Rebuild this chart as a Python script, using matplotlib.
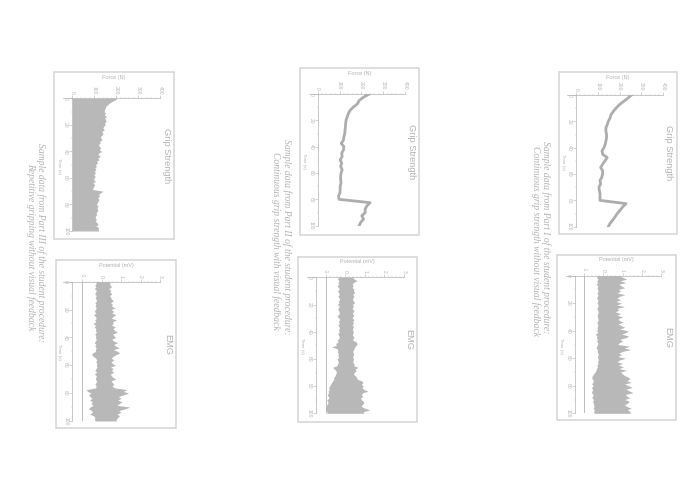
import numpy as np
import matplotlib
matplotlib.use('Agg')
import matplotlib.pyplot as plt
from matplotlib.patches import Rectangle
from matplotlib.ticker import MultipleLocator

# Time samples for the slow force traces (s)
time_s = np.arange(0, 100.1, 2.5)
# Finer time samples for the noisy traces (s)
time_fine = np.arange(0, 100.1, 1.25)

# Grip force (N)
force_rep = [205, 195, 180, 168, 160, 152, 150, 146, 145, 152,
             146, 155, 148, 152, 153, 147, 150, 142, 140, 146,
             134, 140, 138, 128, 130, 136, 124, 128, 118, 124,
             130, 122, 134, 120, 118, 128, 116, 122, 110, 116,
             105, 110, 103, 108, 100, 106, 98, 104, 100, 96,
             106, 94, 102, 98, 95, 92, 141, 128, 120, 124,
             116, 122, 118, 114, 110, 118, 112, 116, 115, 108,
             112, 106, 104, 110, 105, 112, 118, 108, 120, 118,
             120]
force_part2 = [237, 209, 190, 182, 163, 148, 140, 135, 130, 128, 127, 125, 124, 120, 118, 108, 120, 118,
               110, 112, 103, 110, 105, 112, 107, 105, 105, 107, 103, 103, 102, 95, 98, 240, 225, 217, 218, 202, 210, 197, 190]
force_part1 = [255, 237, 217, 198, 183, 171, 160, 156, 148, 143, 137, 137, 140, 140, 137, 134, 128, 119,
               122, 143, 133, 122, 113, 122, 122, 118, 110, 113, 105, 107, 110, 110, 110, 229, 214, 202, 189, 179, 168, 156, 148]

# EMG envelopes (mV)
emg_rep_low = [-0.33, -0.28, -0.36, -0.3, -0.38, -0.27, -0.32, -0.36, -0.28, -0.33,
               -0.3, -0.26, -0.35, -0.3, -0.34, -0.28, -0.33, -0.38, -0.3, -0.42,
               -0.32, -0.28, -0.36, -0.3, -0.45, -0.32, -0.38, -0.3, -0.33, -0.27,
               -0.36, -0.3, -0.33, -0.28, -0.32, -0.38, -0.3, -0.36, -0.28, -0.33,
               -0.32, -0.48, -0.52, -0.42, -0.3, -0.26, -0.3, -0.25, -0.28, -0.24,
               -0.3, -0.35, -0.26, -0.38, -0.28, -0.3, -0.33, -0.26, -0.3, -0.35,
               -0.28, -0.32, -0.8, -0.72, -0.55, -0.68, -0.6, -0.5, -0.62, -0.48,
               -0.55, -0.45, -0.6, -0.68, -0.52, -0.48, -0.62, -0.42, -0.35, -0.38,
               -0.33]
emg_rep_high = [0.48, 0.38, 0.44, 0.5, 0.36, 0.46, 0.42, 0.52, 0.4, 0.46,
                0.5, 0.6, 0.45, 0.55, 0.5, 0.7, 0.48, 0.62, 0.52, 0.72,
                0.58, 0.5, 0.76, 0.56, 0.6, 0.5, 0.7, 0.58, 0.66, 0.8,
                0.56, 0.62, 0.72, 0.52, 0.6, 0.82, 0.62, 0.72, 0.9, 0.6,
                0.82, 0.92, 0.72, 0.56, 0.5, 0.62, 0.48, 0.55, 0.7, 0.46,
                0.58, 0.5, 0.62, 0.44, 0.5, 0.58, 0.72, 0.48, 0.55, 0.62,
                0.52, 0.68, 1.3, 1.1, 1.38, 1.12, 0.85, 1.0, 0.82, 1.05,
                0.9, 0.78, 1.45, 1.2, 0.88, 1.0, 0.78, 0.92, 0.82, 0.75,
                0.75]
emg_p2_low = [-0.35, -0.4, -0.32, -0.38, -0.33, -0.42, -0.36, -0.3, -0.4, -0.34,
              -0.3, -0.38, -0.33, -0.28, -0.36, -0.32, -0.4, -0.3, -0.35, -0.38,
              -0.32, -0.3, -0.35, -0.42, -0.32, -0.28, -0.36, -0.3, -0.38, -0.32,
              -0.3, -0.35, -0.3, -0.38, -0.35, -0.3, -0.33, -0.42, -0.36, -0.5,
              -0.45, -0.7, -0.42, -0.38, -0.4, -0.35, -0.38, -0.33, -0.42, -0.38,
              -0.35, -0.4, -0.42, -0.65, -0.55, -0.48, -0.45, -0.5, -0.52, -0.6,
              -0.58, -0.65, -0.7, -0.75, -0.8, -0.85, -0.82, -0.88, -0.85, -0.92,
              -0.88, -0.82, -0.95, -0.9, -0.88, -0.95, -0.98, -1.0, -1.05, -0.9,
              -1.0]
emg_p2_high = [0.38, 0.45, 0.6, 0.42, 0.36, 0.4, 0.35, 0.44, 0.42, 0.48,
               0.38, 0.44, 0.4, 0.36, 0.42, 0.48, 0.36, 0.42, 0.35, 0.4,
               0.44, 0.36, 0.42, 0.4, 0.36, 0.44, 0.38, 0.42, 0.35, 0.42,
               0.38, 0.36, 0.42, 0.38, 0.36, 0.44, 0.4, 0.38, 0.55, 0.62,
               0.55, 0.48, 0.45, 0.4, 0.38, 0.44, 0.4, 0.38, 0.42, 0.4,
               0.38, 0.46, 0.42, 0.65, 0.5, 0.55, 0.46, 0.42, 0.52, 0.58,
               0.62, 0.85, 0.9, 0.82, 0.92, 0.85, 0.95, 1.15, 0.88, 0.82,
               0.9, 0.78, 0.82, 0.92, 0.95, 0.85, 0.82, 1.0, 1.25, 0.92,
               0.95]
emg_p1_low = [-0.3, -0.35, -0.28, -0.33, -0.3, -0.36, -0.28, -0.32, -0.3, -0.26,
              -0.33, -0.28, -0.3, -0.35, -0.27, -0.3, -0.32, -0.26, -0.28, -0.33,
              -0.3, -0.26, -0.28, -0.32, -0.3, -0.28, -0.26, -0.33, -0.3, -0.28,
              -0.32, -0.3, -0.34, -0.28, -0.42, -0.32, -0.36, -0.3, -0.35, -0.28,
              -0.3, -0.34, -0.38, -0.3, -0.32, -0.28, -0.26, -0.3, -0.28, -0.25,
              -0.3, -0.27, -0.33, -0.3, -0.35, -0.38, -0.42, -0.5, -0.55, -0.6,
              -0.58, -0.5, -0.55, -0.6, -0.52, -0.62, -0.55, -0.58, -0.62, -0.52,
              -0.55, -0.6, -0.5, -0.55, -0.52, -0.5, -0.48, -0.52, -0.46, -0.5,
              -0.48]
emg_p1_high = [0.85, 1.02, 1.22, 0.88, 1.18, 0.8, 0.95, 1.12, 0.78, 0.9,
               0.72, 1.12, 0.85, 0.7, 0.9, 0.66, 0.95, 0.7, 1.1, 0.72,
               0.8, 0.62, 0.9, 0.72, 1.0, 0.78, 0.82, 1.05, 0.76, 0.92,
               1.12, 0.85, 1.28, 1.2, 0.95, 1.32, 1.18, 0.86, 1.0, 0.82,
               0.75, 1.38, 1.1, 1.42, 1.0, 0.8, 0.95, 0.75, 1.15, 0.85,
               0.72, 1.0, 0.78, 1.05, 0.82, 1.2, 0.9, 0.98, 1.1, 1.3,
               1.38, 1.22, 1.45, 1.1, 1.32, 1.5, 1.18, 1.35, 1.55, 1.15,
               1.22, 1.38, 1.12, 1.35, 1.28, 1.1, 1.22, 1.45, 1.25, 1.4,
               1.4]

force_ticks = [0, 100, 200, 300, 400]
emg_ticks = [-1, 0, 1, 2, 3]
time_ticks = [0, 20, 40, 60, 80, 100]

captions = [
    ('Sample data from Part III of the student procedure:', 41, 242),
    ('Repetitive gripping without visual feedback', 31, 247),
    ('Sample data from Part II of the student procedure:', 287, 237),
    ('Continuous grip strength with visual feedback', 276, 241),
    ('Sample data from Part I of the student procedure:', 546, 237),
    ('Continuous grip strength without visual feedback', 536, 241),
]

W, H = 700, 483
GRAY = '#b8b8b8'
LINE = '#adadad'
TEXT = '#b2b2b2'
FRAME = '#d4d4d4'

fig = plt.figure(figsize=(W / 100, H / 100), dpi=100)
plt.rcParams['font.family'] = 'Liberation Sans'


def panel(frame, x_lim, y_lim, vmin, vmax, ticks, title, unit, axis_x, time_label_x):
    # frame and limits are in reference pixels
    fx0, fx1, fy0, fy1 = frame
    fig.add_artist(Rectangle((fx0 / W, 1 - fy1 / H), (fx1 - fx0) / W, (fy1 - fy0) / H, fill=False,
                             ec=FRAME, lw=1.1, transform=fig.transFigure))
    ax = fig.add_axes([x_lim[0] / W, 1 - y_lim[1] / H, (x_lim[1] - x_lim[0]) / W, (y_lim[1] - y_lim[0]) / H])
    ax.patch.set_alpha(0)
    ax.set_xlim(vmin, vmax)
    ax.set_ylim(100, 0)
    for side in ['right', 'bottom']:
        ax.spines[side].set_visible(False)
    ax.spines['top'].set_color(TEXT)
    ax.spines['top'].set_linewidth(0.5)
    ax.spines['left'].set_color(TEXT)
    ax.spines['left'].set_linewidth(0.5)
    ax.spines['left'].set_position(('outward', (x_lim[0] - axis_x) * 0.72))
    ax.xaxis.tick_top()
    ax.set_xticks(ticks)
    ax.set_xticklabels([str(t) for t in ticks], rotation=-90)
    ax.xaxis.set_minor_locator(MultipleLocator((ticks[1] - ticks[0]) / 5))
    ax.set_yticks(time_ticks)
    ax.yaxis.set_minor_locator(MultipleLocator(10))
    ax.tick_params(which='major', length=2, width=0.4, color=TEXT, labelcolor=TEXT, labelsize=3.6, pad=1)
    ax.tick_params(which='minor', length=1, width=0.3, color=TEXT)
    ax.set_yticklabels([str(t) for t in time_ticks], rotation=-90, va='center')
    # top axis runs on to the left of the time axis
    px_per_unit = (x_lim[1] - x_lim[0]) / (vmax - vmin)
    ax.plot([vmin - (x_lim[0] - axis_x + 9) / px_per_unit, vmin], [0, 0], color=TEXT, lw=0.5, clip_on=False)
    fig.text((fx0 + fx1) / 2 / W, 1 - (fy0 + 5) / H, unit, fontsize=4, color=TEXT, ha='center', va='center')
    fig.text(time_label_x / W, 1 - (y_lim[0] + y_lim[1]) / 2 / H - 0.002, 'Time (s)', fontsize=3.2, color=TEXT,
             rotation=-90, ha='center', va='center')
    fig.text((fx1 - 8) / W, 1 - (fy0 + fy1) / 2 / H, title, fontsize=6.7, color=TEXT, rotation=-90,
             ha='center', va='center')
    return ax


# Left column: repetitive gripping
ax = panel((54, 174, 72, 239), (72.3, 160), (98.3, 231), 0, 400, force_ticks, 'Grip Strength', 'Force (N)', 72.3, 59)
ax.fill_betweenx(time_fine, 0, force_rep, color=GRAY, lw=0)

ax = panel((56, 176, 260, 428), (82.3, 160), (281.7, 421), -1, 3, emg_ticks, 'EMG', 'Potential (mV)', 72.3, 59)
ax.fill_betweenx(time_fine, emg_rep_low, emg_rep_high, color=GRAY, lw=0)
ax.axvline(-1, color=TEXT, lw=0.6)

# Middle column: continuous grip, visual feedback
ax = panel((300, 419, 68, 235), (317.7, 405), (94, 225.7), 0, 400, force_ticks, 'Grip Strength', 'Force (N)', 317.7, 304)
ax.plot(force_part2, time_s, color=LINE, lw=2)

ax = panel((298, 417, 257, 422), (325.7, 404), (277.3, 413.3), -1, 3, emg_ticks, 'EMG', 'Potential (mV)', 316, 302)
ax.fill_betweenx(time_fine, emg_p2_low, emg_p2_high, color=GRAY, lw=0)
ax.axvline(-1, color=TEXT, lw=0.6)

# Right column: continuous grip, no feedback
ax = panel((559, 677, 72, 234), (576, 663.3), (95, 226.7), 0, 400, force_ticks, 'Grip Strength', 'Force (N)', 576, 563)
ax.plot(force_part1, time_s, color=LINE, lw=2)

ax = panel((557, 676, 255, 420), (584, 661), (275.7, 413.3), -1, 3, emg_ticks, 'EMG', 'Potential (mV)', 575, 561)
ax.fill_betweenx(time_fine, emg_p1_low, emg_p1_high, color=GRAY, lw=0)
ax.axvline(-1, color=TEXT, lw=0.6)

for text, x, y in captions:
    fig.text(x / W, 1 - y / H, text, family='Liberation Serif', style='italic', fontsize=6.9, color=TEXT,
             rotation=-90, ha='center', va='center')

fig.savefig('out.png', dpi=100)
